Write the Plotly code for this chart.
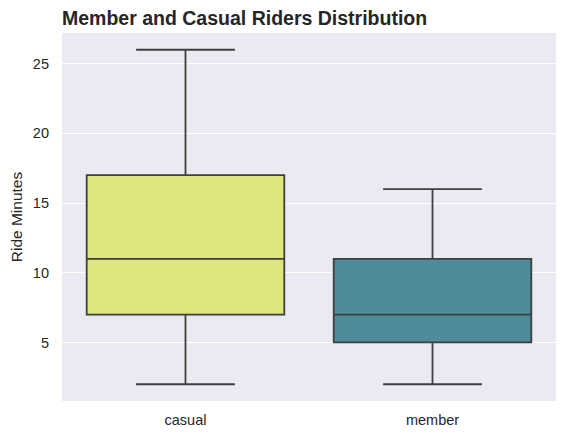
import plotly.graph_objects as go

# rider type and ride-minute box statistics
rider_types = ['casual', 'member']
lower_fence = [2, 2]
q1 = [7, 5]
median = [11, 7]
q3 = [17, 11]
upper_fence = [26, 16]
box_colors = ['#dde57b', '#4f8c99']

# the page body has an 8px margin, so the figure is a bit smaller than the window
W, H = 558, 431

fig = go.Figure()
for i, rider in enumerate(rider_types):
    fig.add_trace(go.Box(
        x=[rider],
        lowerfence=[lower_fence[i]],
        q1=[q1[i]],
        median=[median[i]],
        q3=[q3[i]],
        upperfence=[upper_fence[i]],
        fillcolor=box_colors[i],
        line=dict(color='#3f3f3f', width=1.8),
        width=0.8,
        whiskerwidth=0.5,
        boxpoints=False,
        hoverinfo='skip',
        showlegend=False,
    ))

fig.update_layout(
    width=W,
    height=H,
    paper_bgcolor='white',
    plot_bgcolor='#eaeaf2',
    boxmode='overlay',
    margin=dict(l=54, r=10, t=25, b=38, autoexpand=False),
    font=dict(family='Liberation Sans, Arial, sans-serif', color='#262626', size=14),
    title=dict(
        text='<b>Member and Casual Riders Distribution</b>',
        x=54 / W, xanchor='left',
        y=1 - 17 / H, yanchor='bottom',
        font=dict(size=19.5, color='#262626'),
    ),
    xaxis=dict(
        range=[-0.5, 1.5],
        showgrid=False,
        zeroline=False,
        ticks='',
        ticklabelstandoff=8,
        automargin=False,
        tickfont=dict(size=14.5),
    ),
    yaxis=dict(
        title=dict(text='Ride Minutes', font=dict(size=15.5), standoff=7),
        range=[0.8, 27.2],
        tickvals=[5, 10, 15, 20, 25],
        gridcolor='white',
        gridwidth=1,
        zeroline=False,
        ticks='',
        ticklabelstandoff=12,
        automargin=False,
        tickfont=dict(size=14.5),
    ),
)

fig.write_html('out.html')
